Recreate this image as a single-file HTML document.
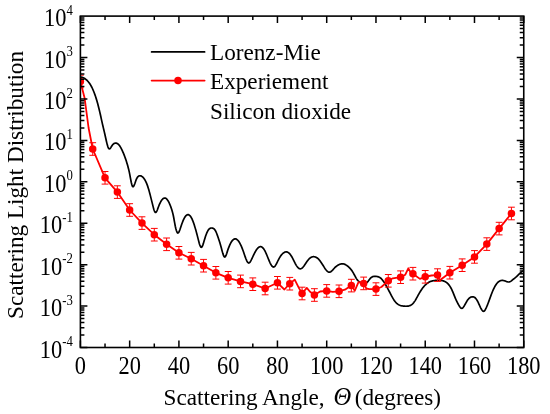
<!DOCTYPE html>
<html><head><meta charset="utf-8"><style>
html,body{margin:0;padding:0;background:#fff;width:550px;height:414px;overflow:hidden}
svg{position:absolute;left:0;top:0;display:block;filter:blur(0.3px)}
text{font-family:"Liberation Serif",serif;font-size:23.2px;fill:#000}
</style></head><body>
<svg width="550" height="414" viewBox="0 0 550 414">
<defs><clipPath id="c"><rect x="80.4" y="16.1" width="443.35" height="331.40"/></clipPath></defs>
<g clip-path="url(#c)">
<path d="M80.30,77.00 L80.80,77.05 L81.30,77.12 L81.80,77.23 L82.30,77.37 L82.80,77.55 L83.30,77.75 L83.80,77.99 L84.30,78.27 L84.80,78.58 L85.30,78.93 L85.80,79.31 L86.30,79.73 L86.80,80.19 L87.30,80.68 L87.80,81.22 L88.30,81.79 L88.80,82.41 L89.30,83.08 L89.80,83.80 L90.30,84.57 L90.80,85.39 L91.30,86.28 L91.80,87.23 L92.30,88.25 L92.80,89.34 L93.30,90.49 L93.80,91.71 L94.30,93.00 L94.80,94.36 L95.30,95.79 L95.80,97.30 L96.30,98.88 L96.80,100.54 L97.30,102.28 L97.80,104.09 L98.30,105.97 L98.80,107.94 L99.30,109.98 L99.80,112.10 L100.30,114.29 L100.80,116.54 L101.30,118.81 L101.80,121.08 L102.30,123.32 L102.80,125.50 L103.30,127.63 L103.80,129.74 L104.30,131.86 L104.80,134.00 L105.30,136.20 L105.80,138.47 L106.30,140.73 L106.80,142.88 L107.30,144.85 L107.80,146.52 L108.30,147.81 L108.80,148.62 L109.30,148.92 L109.80,148.78 L110.30,148.32 L110.80,147.63 L111.30,146.82 L111.80,145.97 L112.30,145.21 L112.80,144.57 L113.30,144.06 L113.80,143.67 L114.30,143.39 L114.80,143.20 L115.30,143.11 L115.80,143.10 L116.30,143.17 L116.80,143.31 L117.30,143.53 L117.80,143.85 L118.30,144.25 L118.80,144.74 L119.30,145.33 L119.80,146.03 L120.30,146.82 L120.80,147.69 L121.30,148.64 L121.80,149.64 L122.30,150.70 L122.80,151.80 L123.30,152.94 L123.80,154.13 L124.30,155.38 L124.80,156.70 L125.30,158.09 L125.80,159.56 L126.30,161.09 L126.80,162.68 L127.30,164.34 L127.80,166.06 L128.30,167.91 L128.80,169.91 L129.30,172.14 L129.80,174.63 L130.30,177.32 L130.80,180.01 L131.30,182.50 L131.80,184.56 L132.30,186.00 L132.80,186.66 L133.30,186.62 L133.80,186.02 L134.30,184.99 L134.80,183.69 L135.30,182.23 L135.80,180.78 L136.30,179.45 L136.80,178.35 L137.30,177.48 L137.80,176.80 L138.30,176.31 L138.80,175.98 L139.30,175.79 L139.80,175.73 L140.30,175.77 L140.80,175.90 L141.30,176.10 L141.80,176.37 L142.30,176.72 L142.80,177.14 L143.30,177.65 L143.80,178.24 L144.30,178.92 L144.80,179.70 L145.30,180.57 L145.80,181.55 L146.30,182.64 L146.80,183.84 L147.30,185.15 L147.80,186.60 L148.30,188.16 L148.80,189.85 L149.30,191.63 L149.80,193.48 L150.30,195.40 L150.80,197.36 L151.30,199.35 L151.80,201.36 L152.30,203.38 L152.80,205.41 L153.30,207.39 L153.80,209.22 L154.30,210.76 L154.80,211.88 L155.30,212.46 L155.80,212.46 L156.30,211.98 L156.80,211.12 L157.30,209.98 L157.80,208.67 L158.30,207.29 L158.80,205.94 L159.30,204.69 L159.80,203.56 L160.30,202.53 L160.80,201.61 L161.30,200.79 L161.80,200.06 L162.30,199.44 L162.80,198.92 L163.30,198.51 L163.80,198.22 L164.30,198.04 L164.80,198.00 L165.30,198.09 L165.80,198.31 L166.30,198.65 L166.80,199.12 L167.30,199.70 L167.80,200.41 L168.30,201.22 L168.80,202.15 L169.30,203.18 L169.80,204.31 L170.30,205.55 L170.80,206.88 L171.30,208.30 L171.80,209.83 L172.30,211.50 L172.80,213.38 L173.30,215.54 L173.80,218.04 L174.30,220.79 L174.80,223.58 L175.30,226.21 L175.80,228.49 L176.30,230.33 L176.80,231.71 L177.30,232.61 L177.80,232.99 L178.30,232.84 L178.80,232.21 L179.30,231.22 L179.80,229.95 L180.30,228.52 L180.80,227.00 L181.30,225.51 L181.80,224.07 L182.30,222.69 L182.80,221.40 L183.30,220.20 L183.80,219.11 L184.30,218.13 L184.80,217.27 L185.30,216.53 L185.80,215.92 L186.30,215.43 L186.80,215.06 L187.30,214.82 L187.80,214.71 L188.30,214.72 L188.80,214.86 L189.30,215.13 L189.80,215.53 L190.30,216.07 L190.80,216.74 L191.30,217.55 L191.80,218.50 L192.30,219.59 L192.80,220.81 L193.30,222.14 L193.80,223.58 L194.30,225.10 L194.80,226.70 L195.30,228.37 L195.80,230.09 L196.30,231.88 L196.80,233.73 L197.30,235.64 L197.80,237.60 L198.30,239.60 L198.80,241.56 L199.30,243.39 L199.80,244.97 L200.30,246.22 L200.80,247.03 L201.30,247.31 L201.80,247.02 L202.30,246.24 L202.80,245.08 L203.30,243.64 L203.80,242.02 L204.30,240.34 L204.80,238.68 L205.30,237.08 L205.80,235.58 L206.30,234.18 L206.80,232.92 L207.30,231.80 L207.80,230.85 L208.30,230.07 L208.80,229.43 L209.30,228.93 L209.80,228.55 L210.30,228.28 L210.80,228.11 L211.30,228.02 L211.80,228.00 L212.30,228.05 L212.80,228.17 L213.30,228.39 L213.80,228.71 L214.30,229.16 L214.80,229.74 L215.30,230.49 L215.80,231.40 L216.30,232.49 L216.80,233.73 L217.30,235.09 L217.80,236.52 L218.30,237.98 L218.80,239.46 L219.30,240.98 L219.80,242.56 L220.30,244.22 L220.80,245.97 L221.30,247.83 L221.80,249.75 L222.30,251.63 L222.80,253.37 L223.30,254.88 L223.80,256.05 L224.30,256.79 L224.80,256.99 L225.30,256.63 L225.80,255.79 L226.30,254.60 L226.80,253.17 L227.30,251.63 L227.80,250.10 L228.30,248.65 L228.80,247.31 L229.30,246.06 L229.80,244.92 L230.30,243.87 L230.80,242.92 L231.30,242.07 L231.80,241.31 L232.30,240.66 L232.80,240.11 L233.30,239.66 L233.80,239.31 L234.30,239.06 L234.80,238.92 L235.30,238.89 L235.80,238.95 L236.30,239.13 L236.80,239.40 L237.30,239.78 L237.80,240.25 L238.30,240.82 L238.80,241.49 L239.30,242.25 L239.80,243.10 L240.30,244.04 L240.80,245.07 L241.30,246.17 L241.80,247.35 L242.30,248.61 L242.80,249.93 L243.30,251.32 L243.80,252.76 L244.30,254.23 L244.80,255.69 L245.30,257.12 L245.80,258.47 L246.30,259.70 L246.80,260.80 L247.30,261.71 L247.80,262.40 L248.30,262.84 L248.80,263.00 L249.30,262.85 L249.80,262.42 L250.30,261.77 L250.80,260.93 L251.30,259.97 L251.80,258.91 L252.30,257.82 L252.80,256.73 L253.30,255.66 L253.80,254.62 L254.30,253.62 L254.80,252.66 L255.30,251.75 L255.80,250.89 L256.30,250.09 L256.80,249.36 L257.30,248.70 L257.80,248.12 L258.30,247.63 L258.80,247.22 L259.30,246.91 L259.80,246.71 L260.30,246.61 L260.80,246.62 L261.30,246.75 L261.80,246.99 L262.30,247.34 L262.80,247.81 L263.30,248.37 L263.80,249.05 L264.30,249.82 L264.80,250.70 L265.30,251.67 L265.80,252.73 L266.30,253.86 L266.80,255.03 L267.30,256.24 L267.80,257.47 L268.30,258.71 L268.80,259.93 L269.30,261.12 L269.80,262.26 L270.30,263.32 L270.80,264.30 L271.30,265.16 L271.80,265.88 L272.30,266.45 L272.80,266.85 L273.30,267.05 L273.80,267.03 L274.30,266.78 L274.80,266.32 L275.30,265.68 L275.80,264.90 L276.30,264.00 L276.80,263.03 L277.30,262.02 L277.80,261.00 L278.30,260.01 L278.80,259.07 L279.30,258.17 L279.80,257.33 L280.30,256.55 L280.80,255.82 L281.30,255.14 L281.80,254.53 L282.30,253.97 L282.80,253.48 L283.30,253.05 L283.80,252.69 L284.30,252.39 L284.80,252.16 L285.30,252.00 L285.80,251.91 L286.30,251.90 L286.80,251.96 L287.30,252.09 L287.80,252.30 L288.30,252.59 L288.80,252.95 L289.30,253.39 L289.80,253.91 L290.30,254.51 L290.80,255.18 L291.30,255.94 L291.80,256.77 L292.30,257.68 L292.80,258.63 L293.30,259.62 L293.80,260.63 L294.30,261.64 L294.80,262.64 L295.30,263.60 L295.80,264.51 L296.30,265.36 L296.80,266.14 L297.30,266.82 L297.80,267.42 L298.30,267.92 L298.80,268.31 L299.30,268.60 L299.80,268.77 L300.30,268.82 L300.80,268.74 L301.30,268.53 L301.80,268.22 L302.30,267.81 L302.80,267.31 L303.30,266.74 L303.80,266.11 L304.30,265.44 L304.80,264.73 L305.30,264.00 L305.80,263.26 L306.30,262.52 L306.80,261.80 L307.30,261.10 L307.80,260.42 L308.30,259.79 L308.80,259.21 L309.30,258.70 L309.80,258.24 L310.30,257.85 L310.80,257.52 L311.30,257.25 L311.80,257.04 L312.30,256.88 L312.80,256.77 L313.30,256.71 L313.80,256.70 L314.30,256.74 L314.80,256.82 L315.30,256.96 L315.80,257.15 L316.30,257.39 L316.80,257.68 L317.30,258.03 L317.80,258.44 L318.30,258.90 L318.80,259.42 L319.30,259.99 L319.80,260.61 L320.30,261.28 L320.80,261.98 L321.30,262.71 L321.80,263.46 L322.30,264.23 L322.80,265.02 L323.30,265.82 L323.80,266.62 L324.30,267.40 L324.80,268.17 L325.30,268.90 L325.80,269.59 L326.30,270.22 L326.80,270.78 L327.30,271.27 L327.80,271.66 L328.30,271.96 L328.80,272.14 L329.30,272.20 L329.80,272.13 L330.30,271.95 L330.80,271.67 L331.30,271.31 L331.80,270.88 L332.30,270.39 L332.80,269.87 L333.30,269.32 L333.80,268.77 L334.30,268.22 L334.80,267.70 L335.30,267.21 L335.80,266.75 L336.30,266.33 L336.80,265.94 L337.30,265.59 L337.80,265.26 L338.30,264.96 L338.80,264.70 L339.30,264.46 L339.80,264.26 L340.30,264.09 L340.80,263.96 L341.30,263.86 L341.80,263.80 L342.30,263.79 L342.80,263.82 L343.30,263.89 L343.80,264.01 L344.30,264.17 L344.80,264.36 L345.30,264.60 L345.80,264.87 L346.30,265.17 L346.80,265.51 L347.30,265.87 L347.80,266.27 L348.30,266.69 L348.80,267.13 L349.30,267.61 L349.80,268.12 L350.30,268.66 L350.80,269.25 L351.30,269.88 L351.80,270.55 L352.30,271.28 L352.80,272.07 L353.30,272.91 L353.80,273.81 L354.30,274.73 L354.80,275.66 L355.30,276.59 L355.80,277.50 L356.30,278.36 L356.80,279.15 L357.30,279.87 L357.80,280.49 L358.30,281.01 L358.80,281.45 L359.30,281.81 L359.80,282.12 L360.30,282.37 L360.80,282.58 L361.30,282.77 L361.80,282.94 L362.30,283.10 L362.80,283.25 L363.30,283.38 L363.80,283.47 L364.30,283.53 L364.80,283.52 L365.30,283.45 L365.80,283.29 L366.30,283.04 L366.80,282.68 L367.30,282.22 L367.80,281.65 L368.30,281.02 L368.80,280.35 L369.30,279.67 L369.80,279.02 L370.30,278.42 L370.80,277.90 L371.30,277.47 L371.80,277.12 L372.30,276.85 L372.80,276.64 L373.30,276.50 L373.80,276.40 L374.30,276.35 L374.80,276.33 L375.30,276.35 L375.80,276.38 L376.30,276.43 L376.80,276.49 L377.30,276.57 L377.80,276.68 L378.30,276.82 L378.80,277.01 L379.30,277.23 L379.80,277.51 L380.30,277.85 L380.80,278.25 L381.30,278.71 L381.80,279.24 L382.30,279.82 L382.80,280.45 L383.30,281.13 L383.80,281.85 L384.30,282.60 L384.80,283.39 L385.30,284.20 L385.80,285.04 L386.30,285.91 L386.80,286.80 L387.30,287.71 L387.80,288.63 L388.30,289.58 L388.80,290.53 L389.30,291.49 L389.80,292.46 L390.30,293.44 L390.80,294.40 L391.30,295.36 L391.80,296.29 L392.30,297.20 L392.80,298.07 L393.30,298.91 L393.80,299.70 L394.30,300.44 L394.80,301.12 L395.30,301.75 L395.80,302.33 L396.30,302.86 L396.80,303.34 L397.30,303.77 L397.80,304.16 L398.30,304.50 L398.80,304.80 L399.30,305.06 L399.80,305.27 L400.30,305.46 L400.80,305.61 L401.30,305.74 L401.80,305.84 L402.30,305.92 L402.80,305.99 L403.30,306.05 L403.80,306.10 L404.30,306.15 L404.80,306.19 L405.30,306.22 L405.80,306.23 L406.30,306.24 L406.80,306.22 L407.30,306.19 L407.80,306.13 L408.30,306.05 L408.80,305.94 L409.30,305.79 L409.80,305.61 L410.30,305.40 L410.80,305.14 L411.30,304.84 L411.80,304.49 L412.30,304.09 L412.80,303.63 L413.30,303.11 L413.80,302.52 L414.30,301.86 L414.80,301.13 L415.30,300.34 L415.80,299.50 L416.30,298.62 L416.80,297.71 L417.30,296.79 L417.80,295.86 L418.30,294.94 L418.80,294.04 L419.30,293.17 L419.80,292.32 L420.30,291.49 L420.80,290.70 L421.30,289.93 L421.80,289.20 L422.30,288.50 L422.80,287.83 L423.30,287.19 L423.80,286.59 L424.30,286.02 L424.80,285.49 L425.30,284.98 L425.80,284.51 L426.30,284.07 L426.80,283.66 L427.30,283.27 L427.80,282.92 L428.30,282.60 L428.80,282.30 L429.30,282.03 L429.80,281.78 L430.30,281.56 L430.80,281.37 L431.30,281.20 L431.80,281.05 L432.30,280.93 L432.80,280.82 L433.30,280.73 L433.80,280.65 L434.30,280.58 L434.80,280.52 L435.30,280.47 L435.80,280.42 L436.30,280.38 L436.80,280.35 L437.30,280.32 L437.80,280.30 L438.30,280.30 L438.80,280.30 L439.30,280.31 L439.80,280.33 L440.30,280.36 L440.80,280.41 L441.30,280.48 L441.80,280.56 L442.30,280.66 L442.80,280.78 L443.30,280.93 L443.80,281.09 L444.30,281.28 L444.80,281.50 L445.30,281.75 L445.80,282.03 L446.30,282.35 L446.80,282.71 L447.30,283.13 L447.80,283.59 L448.30,284.12 L448.80,284.71 L449.30,285.37 L449.80,286.10 L450.30,286.91 L450.80,287.78 L451.30,288.72 L451.80,289.73 L452.30,290.80 L452.80,291.93 L453.30,293.12 L453.80,294.35 L454.30,295.60 L454.80,296.84 L455.30,298.06 L455.80,299.23 L456.30,300.34 L456.80,301.39 L457.30,302.40 L457.80,303.36 L458.30,304.28 L458.80,305.18 L459.30,306.03 L459.80,306.81 L460.30,307.48 L460.80,307.99 L461.30,308.31 L461.80,308.40 L462.30,308.23 L462.80,307.85 L463.30,307.28 L463.80,306.58 L464.30,305.76 L464.80,304.89 L465.30,303.98 L465.80,303.08 L466.30,302.21 L466.80,301.38 L467.30,300.59 L467.80,299.86 L468.30,299.20 L468.80,298.61 L469.30,298.11 L469.80,297.70 L470.30,297.37 L470.80,297.12 L471.30,296.95 L471.80,296.84 L472.30,296.80 L472.80,296.81 L473.30,296.89 L473.80,297.03 L474.30,297.25 L474.80,297.56 L475.30,297.98 L475.80,298.50 L476.30,299.14 L476.80,299.90 L477.30,300.77 L477.80,301.72 L478.30,302.74 L478.80,303.80 L479.30,304.89 L479.80,305.98 L480.30,307.06 L480.80,308.10 L481.30,309.05 L481.80,309.88 L482.30,310.56 L482.80,311.04 L483.30,311.29 L483.80,311.27 L484.30,310.98 L484.80,310.43 L485.30,309.67 L485.80,308.74 L486.30,307.68 L486.80,306.53 L487.30,305.32 L487.80,304.05 L488.30,302.74 L488.80,301.39 L489.30,300.03 L489.80,298.65 L490.30,297.27 L490.80,295.90 L491.30,294.56 L491.80,293.25 L492.30,291.99 L492.80,290.79 L493.30,289.65 L493.80,288.58 L494.30,287.57 L494.80,286.63 L495.30,285.77 L495.80,284.97 L496.30,284.23 L496.80,283.57 L497.30,282.97 L497.80,282.44 L498.30,281.98 L498.80,281.58 L499.30,281.24 L499.80,280.96 L500.30,280.75 L500.80,280.58 L501.30,280.47 L501.80,280.41 L502.30,280.40 L502.80,280.43 L503.30,280.49 L503.80,280.59 L504.30,280.71 L504.80,280.86 L505.30,281.03 L505.80,281.22 L506.30,281.42 L506.80,281.62 L507.30,281.79 L507.80,281.93 L508.30,282.00 L508.80,282.00 L509.30,281.91 L509.80,281.73 L510.30,281.48 L510.80,281.17 L511.30,280.83 L511.80,280.45 L512.30,280.06 L512.80,279.66 L513.30,279.27 L513.80,278.88 L514.30,278.49 L514.80,278.08 L515.30,277.67 L515.80,277.23 L516.30,276.79 L516.80,276.31 L517.30,275.83 L517.80,275.33 L518.30,274.83 L518.80,274.33 L519.30,273.85 L519.80,273.39 L520.30,272.96 L520.80,272.55 L521.30,272.17 L521.80,271.80 L522.30,271.44 L522.80,271.09 L523.30,270.72 L523.80,270.35 L524.30,269.96" fill="none" stroke="#000" stroke-width="1.7"/>
<path d="M80.40,75.20V87.80M77.00,75.20h6.8M77.00,87.80h6.8M92.72,142.70V155.30M89.32,142.70h6.8M89.32,155.30h6.8M105.03,171.50V184.10M101.63,171.50h6.8M101.63,184.10h6.8M117.35,185.80V198.40M113.95,185.80h6.8M113.95,198.40h6.8M129.66,203.70V216.30M126.26,203.70h6.8M126.26,216.30h6.8M141.98,216.80V229.40M138.58,216.80h6.8M138.58,229.40h6.8M154.29,228.40V241.00M150.89,228.40h6.8M150.89,241.00h6.8M166.61,238.00V250.60M163.21,238.00h6.8M163.21,250.60h6.8M178.92,246.50V259.10M175.52,246.50h6.8M175.52,259.10h6.8M191.24,252.40V265.00M187.84,252.40h6.8M187.84,265.00h6.8M203.55,259.40V272.00M200.15,259.40h6.8M200.15,272.00h6.8M215.87,266.50V279.10M212.47,266.50h6.8M212.47,279.10h6.8M228.18,271.50V284.10M224.78,271.50h6.8M224.78,284.10h6.8M240.50,275.10V287.70M237.10,275.10h6.8M237.10,287.70h6.8M252.81,277.90V290.50M249.41,277.90h6.8M249.41,290.50h6.8M265.13,282.20V294.80M261.73,282.20h6.8M261.73,294.80h6.8M277.44,276.50V289.10M274.04,276.50h6.8M274.04,289.10h6.8M289.76,277.40V290.00M286.36,277.40h6.8M286.36,290.00h6.8M302.08,287.20V299.80M298.68,287.20h6.8M298.68,299.80h6.8M314.39,288.70V301.30M310.99,288.70h6.8M310.99,301.30h6.8M326.71,284.60V297.20M323.31,284.60h6.8M323.31,297.20h6.8M339.02,285.00V297.60M335.62,285.00h6.8M335.62,297.60h6.8M351.34,279.30V291.90M347.94,279.30h6.8M347.94,291.90h6.8M363.65,277.10V289.70M360.25,277.10h6.8M360.25,289.70h6.8M375.97,282.80V295.40M372.57,282.80h6.8M372.57,295.40h6.8M388.28,274.50V287.10M384.88,274.50h6.8M384.88,287.10h6.8M400.60,270.90V283.50M397.20,270.90h6.8M397.20,283.50h6.8M412.91,267.40V280.00M409.51,267.40h6.8M409.51,280.00h6.8M425.23,270.50V283.10M421.83,270.50h6.8M421.83,283.10h6.8M437.54,268.80V281.40M434.14,268.80h6.8M434.14,281.40h6.8M449.86,266.40V279.00M446.46,266.40h6.8M446.46,279.00h6.8M462.17,258.90V271.50M458.77,258.90h6.8M458.77,271.50h6.8M474.49,250.60V263.20M471.09,250.60h6.8M471.09,263.20h6.8M486.80,237.80V250.40M483.40,237.80h6.8M483.40,250.40h6.8M499.12,222.30V234.90M495.72,222.30h6.8M495.72,234.90h6.8M511.43,207.20V219.80M508.03,207.20h6.8M508.03,219.80h6.8" fill="none" stroke="#f00" stroke-width="1"/>
<path d="M80.40,81.50 L84.60,98.00 L88.60,128.00 L92.72,149.00 L105.03,177.80 L117.35,192.10 L129.66,210.00 L141.98,223.10 L154.29,234.70 L166.61,244.30 L178.92,252.80 L191.24,258.70 L203.55,265.70 L215.87,272.80 L228.18,277.80 L240.50,281.40 L252.81,284.20 L265.13,288.50 L277.44,282.80 L284.40,289.50 L289.76,283.70 L294.70,279.60 L299.10,288.40 L302.08,293.50 L306.80,287.90 L309.80,291.50 L314.39,295.00 L320.10,291.50 L326.71,290.90 L332.80,291.80 L339.02,291.30 L344.90,289.70 L351.34,285.60 L354.80,290.70 L358.50,282.20 L363.65,283.40 L366.30,288.50 L369.30,289.20 L375.97,289.10 L381.40,287.00 L388.28,280.80 L392.80,278.30 L400.60,277.20 L405.30,274.70 L408.30,268.30 L410.10,271.60 L412.91,273.70 L419.90,278.90 L425.23,276.80 L431.30,275.50 L437.54,275.10 L439.80,280.30 L449.86,272.70 L462.17,265.20 L474.49,256.90 L486.80,244.10 L499.12,228.60 L511.43,213.50" fill="none" stroke="#f00" stroke-width="1.8" stroke-linejoin="round"/>
<g fill="#f00"><circle cx="80.40" cy="81.50" r="3.75"/><circle cx="92.72" cy="149.00" r="3.75"/><circle cx="105.03" cy="177.80" r="3.75"/><circle cx="117.35" cy="192.10" r="3.75"/><circle cx="129.66" cy="210.00" r="3.75"/><circle cx="141.98" cy="223.10" r="3.75"/><circle cx="154.29" cy="234.70" r="3.75"/><circle cx="166.61" cy="244.30" r="3.75"/><circle cx="178.92" cy="252.80" r="3.75"/><circle cx="191.24" cy="258.70" r="3.75"/><circle cx="203.55" cy="265.70" r="3.75"/><circle cx="215.87" cy="272.80" r="3.75"/><circle cx="228.18" cy="277.80" r="3.75"/><circle cx="240.50" cy="281.40" r="3.75"/><circle cx="252.81" cy="284.20" r="3.75"/><circle cx="265.13" cy="288.50" r="3.75"/><circle cx="277.44" cy="282.80" r="3.75"/><circle cx="289.76" cy="283.70" r="3.75"/><circle cx="302.08" cy="293.50" r="3.75"/><circle cx="314.39" cy="295.00" r="3.75"/><circle cx="326.71" cy="290.90" r="3.75"/><circle cx="339.02" cy="291.30" r="3.75"/><circle cx="351.34" cy="285.60" r="3.75"/><circle cx="363.65" cy="283.40" r="3.75"/><circle cx="375.97" cy="289.10" r="3.75"/><circle cx="388.28" cy="280.80" r="3.75"/><circle cx="400.60" cy="277.20" r="3.75"/><circle cx="412.91" cy="273.70" r="3.75"/><circle cx="425.23" cy="276.80" r="3.75"/><circle cx="437.54" cy="275.10" r="3.75"/><circle cx="449.86" cy="272.70" r="3.75"/><circle cx="462.17" cy="265.20" r="3.75"/><circle cx="474.49" cy="256.90" r="3.75"/><circle cx="486.80" cy="244.10" r="3.75"/><circle cx="499.12" cy="228.60" r="3.75"/><circle cx="511.43" cy="213.50" r="3.75"/></g>
</g>
<path d="M80.40,347.50v-7M80.40,16.10v7M105.03,347.50v-4M105.03,16.10v4M129.66,347.50v-7M129.66,16.10v7M154.29,347.50v-4M154.29,16.10v4M178.92,347.50v-7M178.92,16.10v7M203.55,347.50v-4M203.55,16.10v4M228.18,347.50v-7M228.18,16.10v7M252.81,347.50v-4M252.81,16.10v4M277.44,347.50v-7M277.44,16.10v7M302.08,347.50v-4M302.08,16.10v4M326.71,347.50v-7M326.71,16.10v7M351.34,347.50v-4M351.34,16.10v4M375.97,347.50v-7M375.97,16.10v7M400.60,347.50v-4M400.60,16.10v4M425.23,347.50v-7M425.23,16.10v7M449.86,347.50v-4M449.86,16.10v4M474.49,347.50v-7M474.49,16.10v7M499.12,347.50v-4M499.12,16.10v4M523.75,347.50v-7M523.75,16.10v7M80.40,347.50h7M523.75,347.50h-7M80.40,335.03h4M523.75,335.03h-4M80.40,327.74h4M523.75,327.74h-4M80.40,322.56h4M523.75,322.56h-4M80.40,318.55h4M523.75,318.55h-4M80.40,315.27h4M523.75,315.27h-4M80.40,312.49h4M523.75,312.49h-4M80.40,310.09h4M523.75,310.09h-4M80.40,307.97h4M523.75,307.97h-4M80.40,306.07h7M523.75,306.07h-7M80.40,293.60h4M523.75,293.60h-4M80.40,286.31h4M523.75,286.31h-4M80.40,281.13h4M523.75,281.13h-4M80.40,277.12h4M523.75,277.12h-4M80.40,273.84h4M523.75,273.84h-4M80.40,271.07h4M523.75,271.07h-4M80.40,268.66h4M523.75,268.66h-4M80.40,266.55h4M523.75,266.55h-4M80.40,264.65h7M523.75,264.65h-7M80.40,252.18h4M523.75,252.18h-4M80.40,244.89h4M523.75,244.89h-4M80.40,239.71h4M523.75,239.71h-4M80.40,235.70h4M523.75,235.70h-4M80.40,232.42h4M523.75,232.42h-4M80.40,229.64h4M523.75,229.64h-4M80.40,227.24h4M523.75,227.24h-4M80.40,225.12h4M523.75,225.12h-4M80.40,223.23h7M523.75,223.23h-7M80.40,210.75h4M523.75,210.75h-4M80.40,203.46h4M523.75,203.46h-4M80.40,198.28h4M523.75,198.28h-4M80.40,194.27h4M523.75,194.27h-4M80.40,190.99h4M523.75,190.99h-4M80.40,188.22h4M523.75,188.22h-4M80.40,185.81h4M523.75,185.81h-4M80.40,183.70h4M523.75,183.70h-4M80.40,181.80h7M523.75,181.80h-7M80.40,169.33h4M523.75,169.33h-4M80.40,162.04h4M523.75,162.04h-4M80.40,156.86h4M523.75,156.86h-4M80.40,152.85h4M523.75,152.85h-4M80.40,149.57h4M523.75,149.57h-4M80.40,146.79h4M523.75,146.79h-4M80.40,144.39h4M523.75,144.39h-4M80.40,142.27h4M523.75,142.27h-4M80.40,140.38h7M523.75,140.38h-7M80.40,127.90h4M523.75,127.90h-4M80.40,120.61h4M523.75,120.61h-4M80.40,115.43h4M523.75,115.43h-4M80.40,111.42h4M523.75,111.42h-4M80.40,108.14h4M523.75,108.14h-4M80.40,105.37h4M523.75,105.37h-4M80.40,102.96h4M523.75,102.96h-4M80.40,100.85h4M523.75,100.85h-4M80.40,98.95h7M523.75,98.95h-7M80.40,86.48h4M523.75,86.48h-4M80.40,79.19h4M523.75,79.19h-4M80.40,74.01h4M523.75,74.01h-4M80.40,70.00h4M523.75,70.00h-4M80.40,66.72h4M523.75,66.72h-4M80.40,63.94h4M523.75,63.94h-4M80.40,61.54h4M523.75,61.54h-4M80.40,59.42h4M523.75,59.42h-4M80.40,57.53h7M523.75,57.53h-7M80.40,45.05h4M523.75,45.05h-4M80.40,37.76h4M523.75,37.76h-4M80.40,32.58h4M523.75,32.58h-4M80.40,28.57h4M523.75,28.57h-4M80.40,25.29h4M523.75,25.29h-4M80.40,22.52h4M523.75,22.52h-4M80.40,20.11h4M523.75,20.11h-4M80.40,18.00h4M523.75,18.00h-4" fill="none" stroke="#000" stroke-width="1.5"/>
<rect x="80.4" y="16.1" width="443.35" height="331.40" fill="none" stroke="#000" stroke-width="1.6"/>
<path d="M151.6,51.9H204.6" stroke="#000" stroke-width="1.7" stroke-linecap="round"/>
<path d="M151.6,80.6H204.6" stroke="#f00" stroke-width="1.8" stroke-linecap="round"/>
<circle cx="178" cy="80.6" r="3.75" fill="#f00"/>
<text transform="translate(72.8,357.60) scale(0.91,1)" text-anchor="end" style="font-size:24.6px">10<tspan style="font-size:14px" dy="-11.5">-4</tspan></text>
<text transform="translate(72.8,316.18) scale(0.91,1)" text-anchor="end" style="font-size:24.6px">10<tspan style="font-size:14px" dy="-11.5">-3</tspan></text>
<text transform="translate(72.8,274.75) scale(0.91,1)" text-anchor="end" style="font-size:24.6px">10<tspan style="font-size:14px" dy="-11.5">-2</tspan></text>
<text transform="translate(72.8,233.33) scale(0.91,1)" text-anchor="end" style="font-size:24.6px">10<tspan style="font-size:14px" dy="-11.5">-1</tspan></text>
<text transform="translate(72.8,191.90) scale(0.91,1)" text-anchor="end" style="font-size:24.6px">10<tspan style="font-size:14px" dy="-11.5">0</tspan></text>
<text transform="translate(72.8,150.47) scale(0.91,1)" text-anchor="end" style="font-size:24.6px">10<tspan style="font-size:14px" dy="-11.5">1</tspan></text>
<text transform="translate(72.8,109.05) scale(0.91,1)" text-anchor="end" style="font-size:24.6px">10<tspan style="font-size:14px" dy="-11.5">2</tspan></text>
<text transform="translate(72.8,67.63) scale(0.91,1)" text-anchor="end" style="font-size:24.6px">10<tspan style="font-size:14px" dy="-11.5">3</tspan></text>
<text transform="translate(72.8,26.20) scale(0.91,1)" text-anchor="end" style="font-size:24.6px">10<tspan style="font-size:14px" dy="-11.5">4</tspan></text>
<text transform="translate(80.40,373.5) scale(0.91,1)" text-anchor="middle" style="font-size:24.6px">0</text>
<text transform="translate(129.66,373.5) scale(0.91,1)" text-anchor="middle" style="font-size:24.6px">20</text>
<text transform="translate(178.92,373.5) scale(0.91,1)" text-anchor="middle" style="font-size:24.6px">40</text>
<text transform="translate(228.18,373.5) scale(0.91,1)" text-anchor="middle" style="font-size:24.6px">60</text>
<text transform="translate(277.44,373.5) scale(0.91,1)" text-anchor="middle" style="font-size:24.6px">80</text>
<text transform="translate(326.71,373.5) scale(0.91,1)" text-anchor="middle" style="font-size:24.6px">100</text>
<text transform="translate(375.97,373.5) scale(0.91,1)" text-anchor="middle" style="font-size:24.6px">120</text>
<text transform="translate(425.23,373.5) scale(0.91,1)" text-anchor="middle" style="font-size:24.6px">140</text>
<text transform="translate(474.49,373.5) scale(0.91,1)" text-anchor="middle" style="font-size:24.6px">160</text>
<text transform="translate(523.75,373.5) scale(0.91,1)" text-anchor="middle" style="font-size:24.6px">180</text>
<text x="210" y="60">Lorenz-Mie</text>
<text x="210" y="88.7">Experiement</text>
<text x="210" y="119">Silicon dioxide</text>
<text x="163.6" y="404.6">Scattering Angle,</text>
<text x="333.6" y="404.6" style="font-style:italic;font-size:24.5px">&#920;</text>
<text x="354.7" y="404.6">(degrees)</text>
<text transform="translate(22.8,318.9) rotate(-90)">Scattering Light Distribution</text>
</svg>
</body></html>
